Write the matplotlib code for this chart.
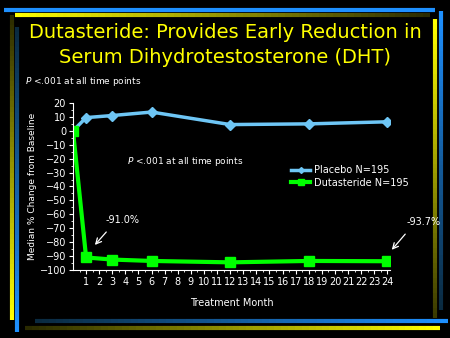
import numpy as np
import matplotlib.pyplot as plt
from matplotlib.collections import LineCollection
from matplotlib.colors import to_rgb

# данные
months = [0, 1, 3, 6, 12, 18, 24]
placebo = [0, 9.5, 11, 13.5, 4.5, 5, 6.5]
dutasteride = [0, -91.0, -92.5, -93.5, -94.5, -93.5, -93.7]

y_ticks = list(range(20, -101, -10))
x_ticks = list(range(1, 25))

fig = plt.figure(figsize=(4.5, 3.38), dpi=100, facecolor='black')


def px(x, y):
    return x / 450, 1 - y / 338


def grad_line(x0, y0, x1, y1, c0, c1, lw=3):
    n = 60
    xs = np.linspace(x0, x1, n + 1)
    ys = np.linspace(y0, y1, n + 1)
    segs = [[px(xs[i], ys[i]), px(xs[i + 1], ys[i + 1])] for i in range(n)]
    a, b = np.array(to_rgb(c0)), np.array(to_rgb(c1))
    cols = [a + (b - a) * t for t in np.linspace(0, 1, n)]
    lc = LineCollection(segs, colors=cols, linewidths=lw, transform=fig.transFigure,
                        zorder=-1)
    fig.add_artist(lc)


blue = '#1e90ff'
yellow = '#ffff00'
dblue = '#0a2a40'
dyellow = '#2a2a00'

# рамка
grad_line(4, 10, 435, 10, blue, blue)
grad_line(15, 15, 430, 15, yellow, dyellow)
grad_line(435, 19, 435, 318, yellow, '#3a3a00')
grad_line(441, 11, 441, 310, blue, dblue)
grad_line(12, 15, 12, 320, dyellow, yellow)
grad_line(17, 27, 17, 332, dblue, blue)
grad_line(35, 321, 448, 321, dblue, blue)
grad_line(25, 328, 440, 328, dyellow, yellow)

fig.text(0.5, 1 - 45 / 338, 'Dutasteride: Provides Early Reduction in\nSerum Dihydrotestosterone (DHT)',
         color=yellow, fontsize=14, ha='center', va='center', linespacing=1.45)

ax = fig.add_axes([73 / 450, 1 - 270 / 338, 317 / 450, 167 / 338])
ax.set_facecolor('black')
ax.plot(months, placebo, color='#6ec6f5', lw=2.5, marker='D', ms=5, label='Placebo N=195')
ax.plot(months, dutasteride, color='#00ff00', lw=3, marker='s', ms=7, label='Dutasteride N=195')

ax.set_xlim(0, 24.2)
ax.set_ylim(-100, 20)
ax.set_yticks(y_ticks)
ax.set_xticks(x_ticks)
ax.set_yticks(np.arange(-95, 20, 10), minor=True)
ax.set_xticks(np.arange(0.5, 24, 1), minor=True)
ax.tick_params(colors='white', labelsize=7, length=3, width=0.8, pad=2)
ax.tick_params(which='minor', colors='white', length=1.5)
for s in ['top', 'right']:
    ax.spines[s].set_visible(False)
for s in ['left', 'bottom']:
    ax.spines[s].set_color('white')

ax.set_ylabel('Median % Change from Baseline', color='white', fontsize=6.5, labelpad=2)
ax.set_xlabel('Treatment Month', color='white', fontsize=7, labelpad=8)

leg = ax.legend(loc='upper left', bbox_to_anchor=(0.66, 0.68), frameon=False,
                fontsize=7, handlelength=2, labelspacing=0.25, handletextpad=0.4,
                markerscale=0.6)
for t in leg.get_texts():
    t.set_color('white')

ax.text(0.17, 0.647, '$P$ <.001 at all time points', color='white', fontsize=6.5,
        transform=ax.transAxes, va='center')
fig.text(25 / 450, 1 - 82 / 338, '$P$ <.001 at all time points', color='white', fontsize=6.5,
         va='center')

ax.annotate('', xy=(1.53, -83.5), xytext=(2.68, -71.2),
            arrowprops=dict(arrowstyle='->', color='white', lw=0.9))
ax.text(3.75, -64, '-91.0%', color='white', fontsize=7, ha='center', va='center')
ax.annotate('', xy=(24.2, -87), xytext=(25.5, -72.7), annotation_clip=False,
            arrowprops=dict(arrowstyle='->', color='white', lw=0.9))
ax.text(26.8, -65.5, '-93.7%', color='white', fontsize=7, ha='center', va='center',
        clip_on=False)

plt.savefig('out.png', dpi=100, facecolor='black')
